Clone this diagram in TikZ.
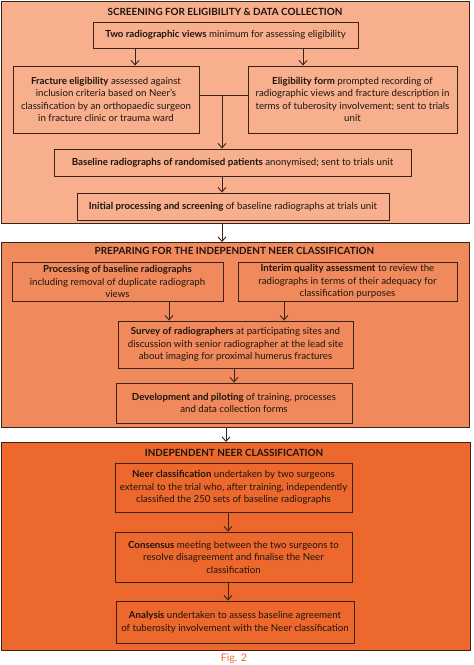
\documentclass[tikz,border=0pt]{standalone}
\usepackage{fontspec}
\setmainfont{Lato}
\usetikzlibrary{arrows.meta}
\definecolor{pone}{HTML}{F8AF8D}
\definecolor{ptwo}{HTML}{F08A5C}
\definecolor{pthree}{HTML}{EC682D}
\definecolor{edge}{HTML}{3A2214}
\definecolor{figc}{HTML}{E96A35}
\definecolor{txt}{HTML}{1E140E}
\begin{document}
\begin{tikzpicture}[x=1pt,y=-1pt,
  panel/.style={draw=edge,line width=1pt,inner sep=0pt,anchor=north west},
  stepbox/.style={draw=edge,line width=0.9pt,inner sep=0pt,align=center,text=txt,
    font=\fontsize{9.7}{12.5}\selectfont},
  ptitle/.style={text=txt,font=\fontsize{9.9}{11}\selectfont\bfseries,inner sep=0pt},
  arr/.style={draw=edge,line width=0.9pt,-{Straight Barb[length=4.5pt,width=8pt,line width=0.9pt]}},
  ln/.style={draw=edge,line width=0.9pt}]
\useasboundingbox (0,0) rectangle (474,665);
% panels
\node[panel,fill=pone,minimum width=468pt,minimum height=222pt] (p1) at (1,1) {};
\node[panel,fill=ptwo,minimum width=468pt,minimum height=185pt] (p2) at (1,242) {};
\node[panel,fill=pthree,minimum width=469pt,minimum height=208pt] (p3) at (1,442) {};
% titles
\node[ptitle] (t1) at (225,12) {SCREENING FOR ELIGIBILITY \& DATA COLLECTION};
\node[ptitle] (t2) at (234.5,251) {PREPARING FOR THE INDEPENDENT NEER CLASSIFICATION};
\node[ptitle] (t3) at (234,453) {INDEPENDENT NEER CLASSIFICATION};
% panel 1
\node[stepbox,minimum width=265pt,minimum height=26pt] (two) at (225.5,35)
  {\textbf{Two radiographic views} minimum for assessing eligibility};
\node[stepbox,minimum width=186pt,minimum height=67pt] (frac) at (106,99.5)
  {\textbf{Fracture eligibility} assessed against\\inclusion criteria based on Neer’s\\classification by an orthopaedic surgeon\\in fracture clinic or trauma ward};
\node[stepbox,minimum width=209pt,minimum height=67pt] (form) at (352.5,99.5)
  {\textbf{Eligibility form} prompted recording of\\radiographic views and fracture description in\\terms of tuberosity involvement; sent to trials\\unit};
\node[stepbox,minimum width=357pt,minimum height=27pt] (base) at (232.5,162.5)
  {\textbf{Baseline radiographs of randomised patients} anonymised; sent to trials unit};
\node[stepbox,minimum width=312pt,minimum height=27pt] (init) at (233,206.5)
  {\textbf{Initial processing and screening} of baseline radiographs at trials unit};
% panel 2
\node[stepbox,minimum width=211pt,minimum height=39pt] (proc) at (117.5,281.5)
  {\textbf{Processing of baseline radiographs}\\including removal of duplicate radiograph\\views};
\node[stepbox,minimum width=219pt,minimum height=39pt] (interim) at (347.5,281.5)
  {\textbf{Interim quality assessment} to review the\\radiographs in terms of their adequacy for\\classification purposes};
\node[stepbox,minimum width=235pt,minimum height=47pt] (survey) at (235.5,344.5)
  {\textbf{Survey of radiographers} at participating sites and\\discussion with senior radiographer at the lead site\\about imaging for proximal humerus fractures};
\node[stepbox,minimum width=236pt,minimum height=40pt] (dev) at (234,403)
  {\textbf{Development and piloting} of training, processes\\and data collection forms};
% panel 3
\node[stepbox,minimum width=237pt,minimum height=49pt] (neer) at (233.5,487.5)
  {\textbf{Neer classification} undertaken by two surgeons\\external to the trial who, after training, independently\\classified the 250 sets of baseline radiographs};
\node[stepbox,minimum width=237pt,minimum height=50pt] (cons) at (233.5,557)
  {\textbf{Consensus} meeting between the two surgeons to\\resolve disagreement and finalise the Neer\\classification};
\node[stepbox,minimum width=238pt,minimum height=42pt] (anal) at (235,622)
  {\textbf{Analysis} undertaken to assess baseline agreement\\of tuberosity involvement with the Neer classification};
\node[text=figc,font=\fontsize{10.5}{12}\selectfont,inner sep=0pt] (fig) at (234,659) {Fig. 2};
% connectors
\draw[arr] (two.south -| 135,0) -- (frac.north -| 135,0);
\draw[arr] (two.south -| 303,0) -- (form.north -| 303,0);
\coordinate (j) at (222,95);
\draw[ln] (frac.east |- j) -- (form.west |- j);
\draw[arr] (j) -- (base.north -| j);
\draw[arr] (base.south -| 222,0) -- (init.north -| 222,0);
\draw[arr] (p1.south -| 222,0) -- (p2.north -| 222,0);
\draw[arr] (proc.south -| 169,0) -- (survey.north -| 169,0);
\draw[arr] (interim.south -| 284,0) -- (survey.north -| 284,0);
\draw[arr] (survey.south -| 234,0) -- (dev.north -| 234,0);
\draw[arr] (p2.south -| 226,0) -- (p3.north -| 226,0);
\draw[arr] (neer.south -| 228,0) -- (cons.north -| 228,0);
\draw[arr] (cons.south -| 228,0) -- (anal.north -| 228,0);
\end{tikzpicture}
\end{document}
